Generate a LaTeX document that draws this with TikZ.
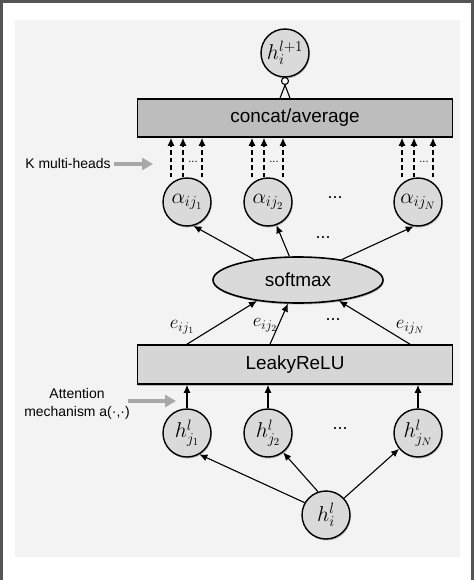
\RequirePackage{fix-cm}
\documentclass[tikz,border=0pt]{standalone}
\usepackage{fontspec}
\setmainfont{Liberation Sans}
\usetikzlibrary{arrows.meta, shapes.geometric, shadows, positioning}
\definecolor{panel}{HTML}{F3F3F3}
\definecolor{frame}{HTML}{555555}
\definecolor{unitgray}{HTML}{DADADA}
\definecolor{catgray}{HTML}{BDBDBD}
\definecolor{relugray}{HTML}{D6D6D6}
\definecolor{hintgray}{HTML}{A8A8A8}

\begin{document}
\begin{tikzpicture}[x=1bp, y=-1bp,
    shade/.style={drop shadow={shadow xshift=0.8bp, shadow yshift=-1.5bp, fill=black!50}},
    unit/.style={circle, draw, line width=1.4bp, fill=unitgray, minimum size=48bp, inner sep=0pt, font=\fontsize{21.5}{23}\selectfont, shade},
    layer/.style={rectangle, draw, line width=1.6bp, minimum width=315bp, font=\fontsize{19}{20}\selectfont, shade},
    flow/.style={-{Latex[length=8bp,width=7bp]}, line width=1.1bp},
    head/.style={flow, line width=1.3bp, dash pattern=on 4.5bp off 3bp},
    hint/.style={-{Triangle[length=11bp,width=12bp]}, line width=3.2bp, draw=hintgray},
    dots/.style={font=\fontsize{18}{18}\selectfont},
    elabel/.style={font=\fontsize{19}{19}\selectfont},
    note/.style={font=\fontsize{14}{18}\selectfont, align=center}]
        \useasboundingbox (0,0) rectangle (474,580);
        \fill[white] (0,0) rectangle (474,580);
        \fill[panel] (15,20) rectangle (460,557);
        \draw[frame, line width=3bp] (1,580) -- (1,1.5) -- (472.5,1.5) -- (472.5,580);

        \node[unit] (hout) at (285,53) {$h_i^{l+1}$};
        \node[layer, fill=catgray, minimum height=38bp] (cat) at (295,118) {concat/average};
        \node[circle, draw, line width=1.1bp, fill=white, inner sep=0pt, minimum size=7bp] (tie) at (285,81) {};
        \coordinate (tieb) at (cat.north -| tie);
        \draw[line width=1.1bp] ([xshift=-5bp]tieb) -- (tie.south) -- ([xshift=5bp]tieb);

        \node[unit] (a1) at (187,202) {$\alpha_{ij_1}$};
        \node[unit] (a2) at (268,202) {$\alpha_{ij_2}$};
        \node[unit] (aN) at (418,202) {$\alpha_{ij_N}$};
        \node[dots] (adots) at (335,198) {...};
        \foreach \a in {a1,a2,aN}{
            \foreach \dx in {-16,-4,15}{
                \path ([xshift=\dx bp]\a.north) coordinate (s);
                \draw[head] (s) -- (s |- cat.south);
            }
            \node[font=\fontsize{11}{11}\selectfont] at ([xshift=6bp,yshift=15bp]\a.north) {...};
        }
        \node[note] (kh) at (68,164) {K multi-heads};
        \coordinate (kt) at (153,164);
        \draw[hint] (kh.east) -- (kt);

        \node[ellipse, draw, line width=1.6bp, fill=unitgray, minimum width=170bp, minimum height=46bp, font=\fontsize{19}{20}\selectfont, shade] (sm) at (298,280) {softmax};
        \draw[flow] (sm.155) -- (a1.-75);
        \draw[flow] (sm.110) -- (a2.-70);
        \draw[flow] (sm.25) -- (aN.-100);
        \node[dots] (smdots) at (323,238) {...};

        \node[layer, fill=relugray, minimum height=39bp] (lr) at (295,364.5) {LeakyReLU};
        \draw[flow] ([xshift=-108bp]lr.north) -- (sm.-153);
        \draw[flow] ([xshift=-25bp]lr.north) -- (sm.-113);
        \draw[flow] ([xshift=115bp]lr.north) -- (sm.-27);
        \node[elabel] (e1) at (182,327) {$e_{ij_1}$};
        \node[elabel] (e2) at (265,325) {$e_{ij_2}$};
        \node[dots] (edots) at (333,320) {...};
        \node[elabel] (eN) at (410,327) {$e_{ij_N}$};

        \node[unit] (hj1) at (187,433) {$h^l_{j_1}$};
        \node[unit] (hj2) at (268,433) {$h^l_{j_2}$};
        \node[unit] (hjN) at (418,433) {$h^l_{j_N}$};
        \node[dots] (hdots) at (340,429) {...};
        \foreach \h in {hj1,hj2,hjN}
            \draw[flow] (\h.north) -- (\h |- lr.south);
        \node[note] (att) at (77,404) {Attention\\mechanism a(·,·)};
        \coordinate (atail) at (128,401);
        \coordinate (ahead) at (176,401);
        \draw[hint] (atail) -- (ahead);

        \node[unit] (hi) at (326,515) {$h^l_i$};
        \draw[flow] (hi.150) -- (hj1.-60);
        \draw[flow] (hi.109) -- (hj2.-52);
        \draw[flow] (hi.43) -- (hjN.-140);
    \end{tikzpicture}
\end{document}
